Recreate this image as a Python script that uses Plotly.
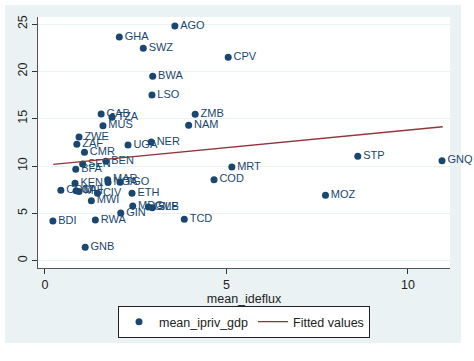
import plotly.graph_objects as go

countries = ["AGO","GHA","SWZ","CPV","BWA","LSO","GAB","TZA","ZMB","MUS","NAM","ZWE","ZAF","UGA","NER",
             "CMR","SEN","BEN","BFA","KEN","MAR","NGA","TGO","COM","CAF","MLI","CIV","ETH","MWI","MDG",
             "GMB","SLE","GIN","BDI","RWA","TCD","GNB","COD","MRT","STP","GNQ","MOZ"]
mean_ideflux = [3.58,2.05,2.71,5.05,2.97,2.95,1.55,1.85,4.14,1.60,3.96,0.94,0.88,2.29,2.93,
                1.09,1.04,1.68,0.85,0.83,1.73,1.74,2.07,0.44,0.86,0.94,1.45,2.40,1.28,2.42,
                2.85,2.96,2.09,0.22,1.39,3.84,1.11,4.66,5.15,8.62,10.94,7.73]
mean_ipriv_gdp = [24.79,23.63,22.43,21.48,19.48,17.50,15.50,15.15,15.46,14.26,14.30,13.07,12.29,12.22,12.54,
                  11.45,10.21,10.50,9.65,8.17,8.56,8.26,8.28,7.44,7.39,7.31,7.12,7.12,6.34,5.78,
                  5.67,5.60,5.04,4.19,4.30,4.37,1.42,8.56,9.90,11.03,10.56,6.91]
fit_x = [0.23, 10.96]
fit_y = [10.18, 14.15]
x_ticks = [0, 5, 10]
y_ticks = [0, 5, 10, 15, 20, 25]

NAVY = "#1a476f"
MAROON = "#90353b"
GRAYBG = "#eaf2f3"

fig = go.Figure()
fig.add_trace(go.Scatter(
    x=mean_ideflux, y=mean_ipriv_gdp, mode="markers+text", text=countries,
    textposition="middle right", name="mean_ipriv_gdp", cliponaxis=False,
    marker=dict(color=NAVY, size=7),
    textfont=dict(family="Liberation Sans, Arial, sans-serif", size=11, color=NAVY),
))
fig.add_trace(go.Scatter(
    x=fit_x, y=fit_y, mode="lines", name="Fitted values",
    line=dict(color=MAROON, width=1.3),
))

W, H = 474, 361
L, R, T, B = 38, 24, 17, 93
pw, ph = W - L - R, H - T - B

def px2paper_x(p):
    return (p - L) / pw

def px2paper_y(p):
    return (H - B - p) / ph

fig.update_layout(
    width=W, height=H,
    margin=dict(l=L, r=R, t=T, b=B, pad=0, autoexpand=False),
    paper_bgcolor="white", plot_bgcolor="white",
    font=dict(family="Liberation Sans, Arial, sans-serif", size=12, color="#222"),
    showlegend=True,
    legend=dict(orientation="h", x=0.5, xanchor="center", y=px2paper_y(306), yanchor="top",
                bordercolor="#222", borderwidth=1, bgcolor="white",
                font=dict(size=12.5, color="#222"), tracegroupgap=0),
    shapes=[
        dict(type="rect", xref="paper", yref="paper", layer="below",
             x0=px2paper_x(5), x1=px2paper_x(461), y0=px2paper_y(343), y1=px2paper_y(5),
             fillcolor=GRAYBG, line=dict(width=0)),
        dict(type="rect", xref="paper", yref="paper", layer="below",
             x0=0, x1=1, y0=0, y1=1, fillcolor="white", line=dict(width=0)),
    ],
)
fig.update_xaxes(
    range=[-0.19, 11.16], tickvals=x_ticks, ticks="outside", ticklen=5, tickcolor="#333",
    showline=True, linecolor="#555", linewidth=1, showgrid=False, zeroline=False,
    title=dict(text="mean_ideflux", standoff=0, font=dict(size=12.5)),
    tickfont=dict(size=12.5), automargin=False,
)
fig.update_yaxes(
    range=[-0.77, 25.74], tickvals=y_ticks, ticks="outside", ticklen=5, tickcolor="#333",
    showline=True, linecolor="#555", linewidth=1, showgrid=True, gridcolor=GRAYBG,
    gridwidth=1, zeroline=False, tickangle=-90, tickfont=dict(size=12.5), automargin=False,
)

fig.write_html("out.html", config={"displayModeBar": False},
               post_script="document.body.style.margin='0';document.body.style.padding='0';")
